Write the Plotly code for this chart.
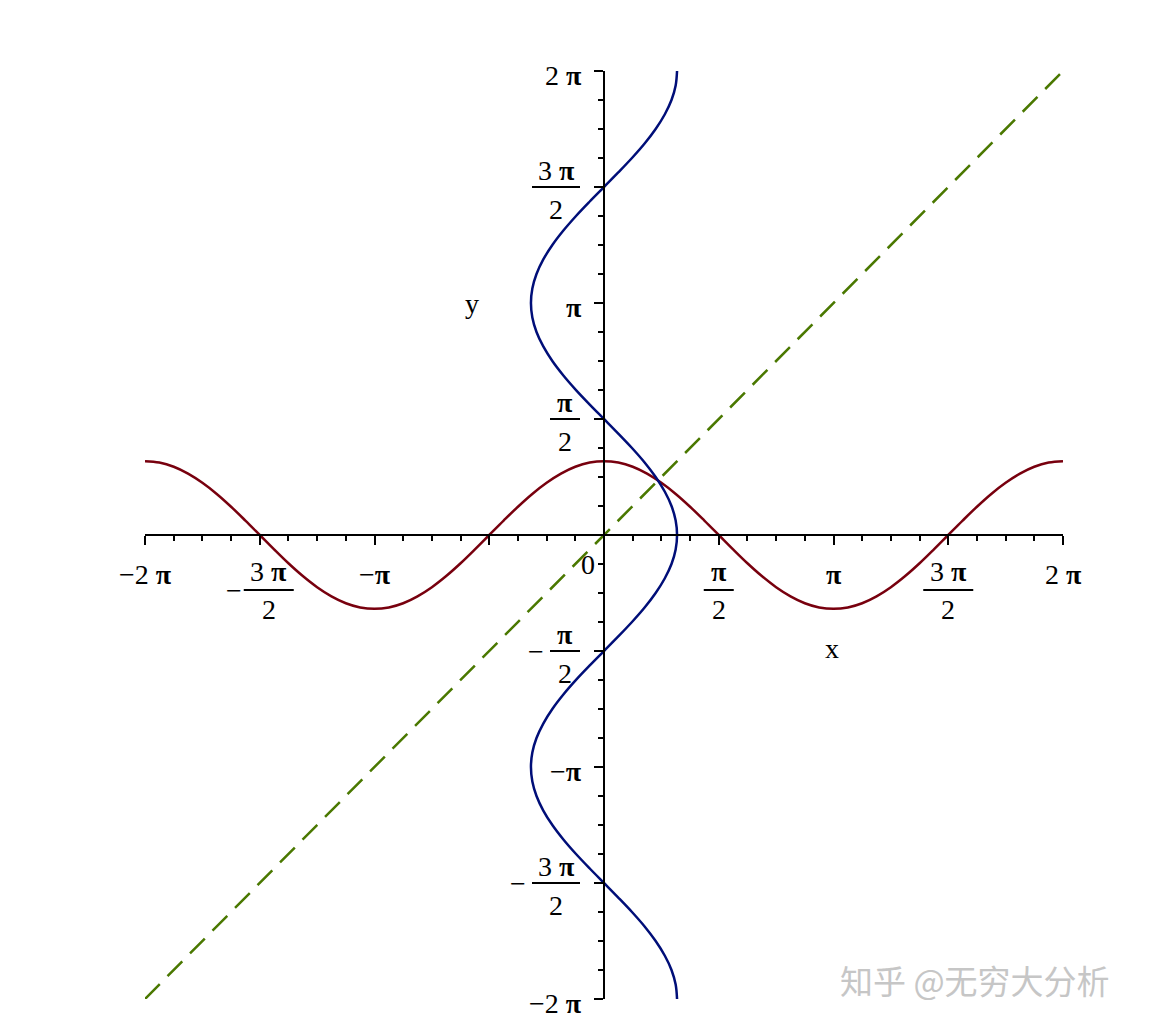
import math
import plotly.graph_objects as go

PI = math.pi

# ---- data (radians) ----
t_pts = [-6.283, -6.087, -5.890, -5.694, -5.498, -5.301, -5.105, -4.909,
         -4.712, -4.516, -4.320, -4.123, -3.927, -3.731, -3.534, -3.338,
         -3.142, -2.945, -2.749, -2.553, -2.356, -2.160, -1.963, -1.767,
         -1.571, -1.374, -1.178, -0.982, -0.785, -0.589, -0.393, -0.196,
         0.000, 0.196, 0.393, 0.589, 0.785, 0.982, 1.178, 1.374,
         1.571, 1.767, 1.963, 2.160, 2.356, 2.553, 2.749, 2.945,
         3.142, 3.338, 3.534, 3.731, 3.927, 4.123, 4.320, 4.516,
         4.712, 4.909, 5.105, 5.301, 5.498, 5.694, 5.890, 6.087, 6.283]
cos_pts = [1.000, 0.981, 0.924, 0.831, 0.707, 0.556, 0.383, 0.195,
           0.000, -0.195, -0.383, -0.556, -0.707, -0.831, -0.924, -0.981,
           -1.000, -0.981, -0.924, -0.831, -0.707, -0.556, -0.383, -0.195,
           0.000, 0.195, 0.383, 0.556, 0.707, 0.831, 0.924, 0.981,
           1.000, 0.981, 0.924, 0.831, 0.707, 0.556, 0.383, 0.195,
           0.000, -0.195, -0.383, -0.556, -0.707, -0.831, -0.924, -0.981,
           -1.000, -0.981, -0.924, -0.831, -0.707, -0.556, -0.383, -0.195,
           0.000, 0.195, 0.383, 0.556, 0.707, 0.831, 0.924, 0.981, 1.000]
diag_pts = [-6.283, 6.283]

# tick labels (positions in units of pi)
x_lab_pos = [-2, -1.5, -1, 0.5, 1, 1.5, 2]
x_lab_top = ["−2 π", "3 π", "−π", "π", "π", "3 π", "2 π"]
x_lab_bot = ["", "2", "", "2", "", "2", ""]
x_lab_neg = [False, True, False, False, False, False, False]

y_lab_pos = [2, 1.5, 1, 0.5, -0.5, -1, -1.5, -2]
y_lab_top = ["2 π", "3 π", "π", "π", "π", "−π", "3 π", "−2 π"]
y_lab_bot = ["", "2", "", "2", "2", "", "2", ""]
y_lab_neg = [False, False, False, False, True, False, True, False]

RED = "#78000E"
BLUE = "#000E78"
GREEN = "#4A7800"
FONT = "Liberation Serif"
FS = 28


def fmt(s):
    return s.replace("π", "<b>π</b>")


fig = go.Figure()
fig.add_trace(go.Scatter(x=t_pts, y=cos_pts, mode="lines", line=dict(color=RED, width=2.5, shape="spline"),
                         showlegend=False, hoverinfo="skip"))
fig.add_trace(go.Scatter(x=cos_pts, y=t_pts, mode="lines", line=dict(color=BLUE, width=2.5, shape="spline"),
                         showlegend=False, hoverinfo="skip"))
fig.add_trace(go.Scatter(x=diag_pts, y=diag_pts, mode="lines", line=dict(color=GREEN, width=2.5, dash="21px,11px"),
                         showlegend=False, hoverinfo="skip"))

major = [k * PI / 2 for k in range(-4, 5)]
minor = [k * PI / 8 for k in range(-16, 17) if k % 4 != 0]

axis_common = dict(range=[-2 * PI, 2 * PI], showgrid=False, zeroline=False, showline=True,
                   linecolor="black", linewidth=2, anchor="free", position=0.5,
                   tickmode="array", tickvals=major, ticks="outside", ticklen=9, tickwidth=2,
                   tickcolor="black", showticklabels=False,
                   minor=dict(tickmode="array", tickvals=minor, ticks="outside", ticklen=5,
                              tickwidth=1.5, tickcolor="black"))

fig.update_layout(
    width=1150, height=1027,
    margin=dict(l=137, r=95, t=63, b=36),
    paper_bgcolor="white", plot_bgcolor="white",
    xaxis=dict(axis_common, domain=[0, 1]),
    yaxis=dict(axis_common, domain=[0, 1]),
)

ann = []
shapes = []
font = dict(family=FONT, size=FS, color="black")

# x-axis labels
for p, top, bot, neg in zip(x_lab_pos, x_lab_top, x_lab_bot, x_lab_neg):
    xv = p * PI
    if not bot:
        ann.append(dict(x=xv, y=0, xref="x", yref="y", text=fmt(top), showarrow=False, font=font,
                        xanchor="center", yanchor="middle", yshift=-39))
    else:
        w = 50 if len(top) > 1 else 30
        dx = 9 if neg else 0
        ann.append(dict(x=xv, y=0, xref="x", yref="y", text=fmt(top), showarrow=False, font=font,
                        xanchor="center", yanchor="middle", xshift=dx, yshift=-36))
        ann.append(dict(x=xv, y=0, xref="x", yref="y", text=bot, showarrow=False, font=font,
                        xanchor="center", yanchor="middle", xshift=dx, yshift=-74))
        shapes.append(dict(type="line", xref="x", yref="y", xsizemode="pixel", ysizemode="pixel",
                           xanchor=xv, yanchor=0, x0=dx - w / 2, x1=dx + w / 2, y0=-55, y1=-55,
                           line=dict(color="black", width=2)))
        if neg:
            ann.append(dict(x=xv, y=0, xref="x", yref="y", text="−", showarrow=False, font=font,
                            xanchor="center", yanchor="middle", xshift=dx - w / 2 - 10, yshift=-55))

# y-axis labels
for p, top, bot, neg in zip(y_lab_pos, y_lab_top, y_lab_bot, y_lab_neg):
    yv = p * PI
    if not bot:
        ann.append(dict(x=0, y=yv, xref="x", yref="y", text=fmt(top), showarrow=False, font=font,
                        xanchor="right", yanchor="middle", xshift=-20, yshift=-4))
    else:
        w = 48 if len(top) > 1 else 30
        cx = -24 - w / 2
        ann.append(dict(x=0, y=yv, xref="x", yref="y", text=fmt(top), showarrow=False, font=font,
                        xanchor="center", yanchor="middle", xshift=cx, yshift=17))
        ann.append(dict(x=0, y=yv, xref="x", yref="y", text=bot, showarrow=False, font=font,
                        xanchor="center", yanchor="middle", xshift=cx, yshift=-22))
        shapes.append(dict(type="line", xref="x", yref="y", xsizemode="pixel", ysizemode="pixel",
                           xanchor=0, yanchor=yv, x0=cx - w / 2, x1=cx + w / 2, y0=0, y1=0,
                           line=dict(color="black", width=2)))
        if neg:
            ann.append(dict(x=0, y=yv, xref="x", yref="y", text="−", showarrow=False, font=font,
                            xanchor="center", yanchor="middle", xshift=cx - w / 2 - 14, yshift=0))

# origin label
ann.append(dict(x=0, y=0, xref="x", yref="y", text="0", showarrow=False, font=font,
                xanchor="center", yanchor="middle", xshift=-16, yshift=-29))

# axis titles
ann.append(dict(x=0.748, y=0.378, xref="paper", yref="paper", text="x", showarrow=False, font=font,
                xanchor="center", yanchor="middle"))
ann.append(dict(x=0.356, y=0.75, xref="paper", yref="paper", text="y", showarrow=False, font=font,
                xanchor="center", yanchor="middle"))

# watermark
ann.append(dict(x=0.904, y=0.021, xref="paper", yref="paper", text="知乎 @无穷大分析", showarrow=False,
                font=dict(family="Noto Sans CJK SC", size=33, color="#c6c6c6"),
                xanchor="center", yanchor="middle"))

fig.update_layout(annotations=ann, shapes=shapes)
fig.write_html("out.html")
